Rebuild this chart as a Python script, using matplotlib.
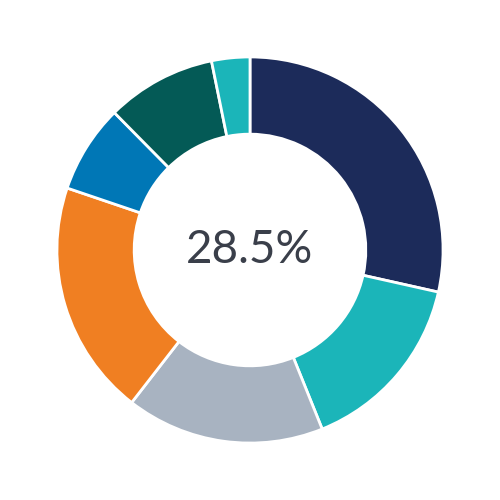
import matplotlib.pyplot as plt

# segment shares (percent), clockwise from the top
labels = ['Navy', 'Teal', 'Grey', 'Orange', 'Blue', 'Dark green', 'Light teal']
values = [28.5, 15.4, 16.6, 19.7, 7.4, 9.2, 3.2]
colors = ['#1c2b5a', '#1bb5b9', '#a8b3c1', '#f07f22', '#0077b6', '#045a56', '#1bb5b9']
center_text = '28.5%'

fig = plt.figure(figsize=(5, 5), dpi=100)
ax = fig.add_axes([0, 0, 1, 1])

ax.pie(values, colors=colors, startangle=90, counterclock=False,
       wedgeprops=dict(width=0.4, edgecolor='white', linewidth=2))

ax.text(0, 0, center_text, ha='center', va='center', fontsize=33,
        color='#3a3f4a', family=['Lato', 'DejaVu Sans'])

ax.set_xlim(-1.295, 1.295)
ax.set_ylim(-1.295, 1.295)
ax.set_aspect('equal')
ax.axis('off')

fig.savefig('out.png', dpi=100, facecolor='white')
